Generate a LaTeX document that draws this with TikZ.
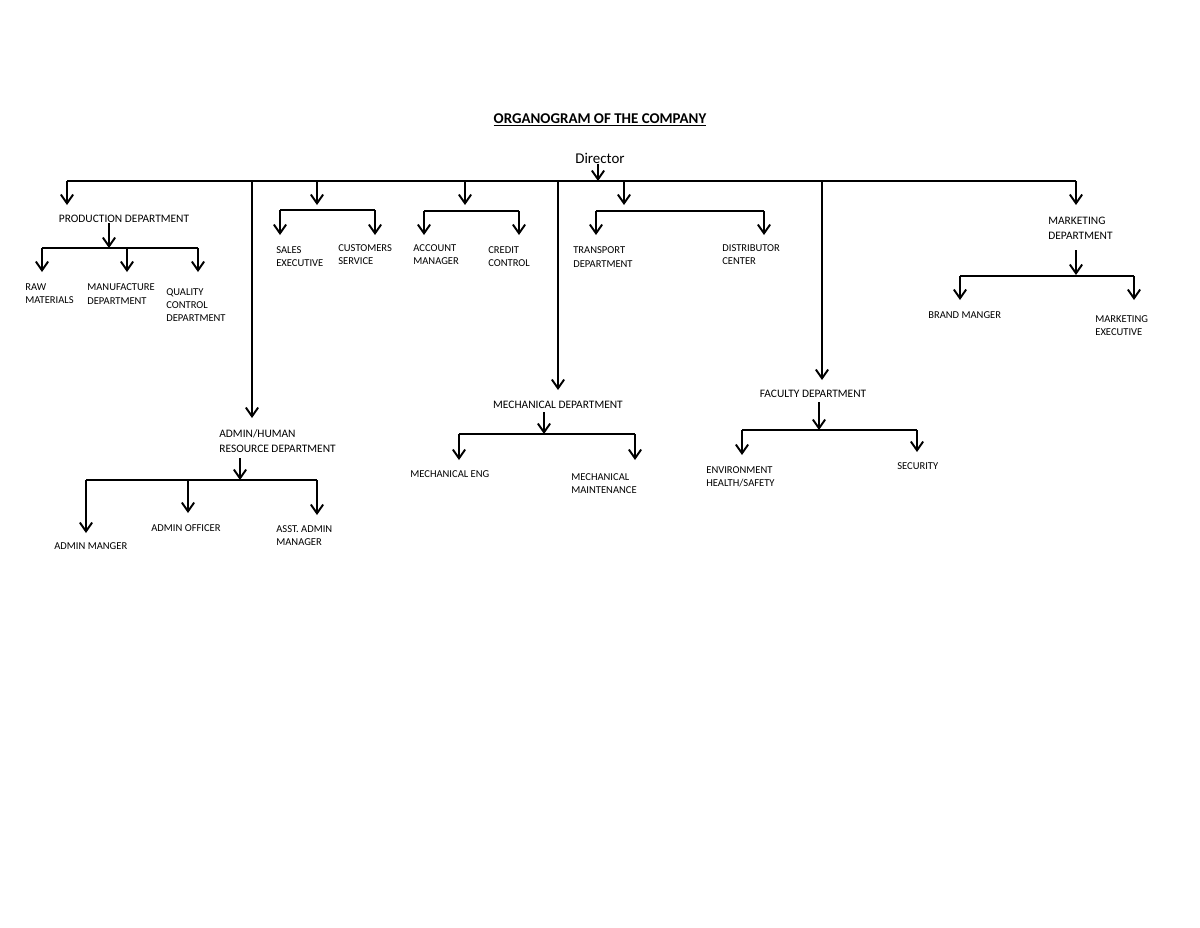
\documentclass[tikz,border=0pt]{standalone}
\usepackage{fontspec}
\setmainfont{Carlito}
\usetikzlibrary{arrows.meta}
\begin{document}
\begin{tikzpicture}[x=0.02cm,y=-0.02cm,
  ln/.style={line width=1.1pt},
  ar/.style={ln,-{Straight Barb[length=5pt,width=7pt,line width=1.1pt]}},
  lb/.style={font=\fontsize{6}{7.5}\selectfont,anchor=west,align=left,inner sep=0pt},
  hd/.style={font=\fontsize{6.5}{8.5}\selectfont,inner sep=0pt,align=left}]
\useasboundingbox (0,0) rectangle (1200,927);
\node[font=\bfseries\fontsize{8.5}{10}\selectfont,inner sep=0pt] (title) at (600,120) {\underline{ORGANOGRAM OF THE COMPANY}};
\node[font=\fontsize{8.5}{10}\selectfont,inner sep=0pt] (dir) at (600,158) {Director};
\coordinate (bar1) at (67,181); \coordinate (bar2) at (1076,181);
\coordinate (dj) at (598,181);
\draw[ar] (dir.south -| dj) -- (dj);
\draw[ln] (bar1) -- (bar2);
% production
\node[hd] (prod) at (124,219) {PRODUCTION DEPARTMENT};
\draw[ar] (bar1) -- (67,205);
\coordinate (pj) at (109,248);
\draw[ar] (prod.south -| pj) -- (pj);
\draw[ln] (42,248) -- (198,248);
\foreach \x in {42,127,198} \draw[ar] (\x,248) -- (\x,272);
\node[lb] (raw) at (25,294) {RAW\\MATERIALS};
\node[lb] (man) at (87,294) {MANUFACTURE\\DEPARTMENT};
\node[lb] (qc) at (166,305) {QUALITY\\CONTROL\\DEPARTMENT};
% admin
\coordinate (aj) at (252,181);
\node[hd] (adm) at (219,441) [anchor=west] {ADMIN/HUMAN\\RESOURCE DEPARTMENT};
\draw[ar] (aj) -- (252,418);
\draw[ar] (240,458) -- (240,480);
\draw[ln] (86,480) -- (317,480);
\draw[ar] (86,480) -- (86,533);
\draw[ar] (188,480) -- (188,513);
\draw[ar] (317,480) -- (317,515);
\node[lb] (am) at (54,546) {ADMIN MANGER};
\node[lb] (ao) at (151,528) {ADMIN OFFICER};
\node[lb] (asst) at (276,536) {ASST. ADMIN\\MANAGER};
% sales
\draw[ar] (317,181) -- (317,205);
\draw[ln] (280,210) -- (375,210);
\draw[ar] (280,210) -- (280,235); \draw[ar] (375,210) -- (375,235);
\node[lb] (se) at (276,257) {SALES\\EXECUTIVE};
\node[lb] (cs) at (338,255) {CUSTOMERS\\SERVICE};
% account
\draw[ar] (465,181) -- (465,205);
\draw[ln] (424,211) -- (519,211);
\draw[ar] (424,211) -- (424,235); \draw[ar] (519,211) -- (519,235);
\node[lb] (acm) at (413,255) {ACCOUNT\\MANAGER};
\node[lb] (cc) at (488,257) {CREDIT\\CONTROL};
% mechanical
\draw[ar] (558,181) -- (558,390);
\node[hd] (mech) at (558,405) {MECHANICAL DEPARTMENT};
\draw[ar] (544,412) -- (544,434);
\draw[ln] (459,434) -- (635,434);
\draw[ar] (459,434) -- (459,460); \draw[ar] (635,434) -- (635,460);
\node[lb] (me) at (410,474) {MECHANICAL ENG};
\node[lb] (mm) at (571,484) {MECHANICAL\\MAINTENANCE};
% transport
\draw[ar] (624,181) -- (624,205);
\draw[ln] (596,211) -- (764,211);
\draw[ar] (596,211) -- (596,235); \draw[ar] (764,211) -- (764,235);
\node[lb] (td) at (573,257) {TRANSPORT\\DEPARTMENT};
\node[lb] (dc) at (722,255) {DISTRIBUTOR\\CENTER};
% faculty
\draw[ar] (822,181) -- (822,380);
\node[hd] (fac) at (813,394) {FACULTY DEPARTMENT};
\draw[ar] (819,402) -- (819,430);
\draw[ln] (742,430) -- (917,430);
\draw[ar] (742,430) -- (742,455); \draw[ar] (917,430) -- (917,452);
\node[lb] (env) at (706,477) {ENVIRONMENT\\HEALTH/SAFETY};
\node[lb] (sec) at (897,466) {SECURITY};
% marketing
\draw[ar] (bar2) -- (1076,205);
\node[hd,anchor=west] (mkt) at (1048,228) {MARKETING\\DEPARTMENT};
\draw[ar] (1076,250) -- (1076,275);
\draw[ln] (960,276) -- (1134,276);
\draw[ar] (960,276) -- (960,300); \draw[ar] (1134,276) -- (1134,300);
\node[lb] (bm) at (928,315) {BRAND MANGER};
\node[lb] (me2) at (1095,326) {MARKETING\\EXECUTIVE};
\end{tikzpicture}
\end{document}
